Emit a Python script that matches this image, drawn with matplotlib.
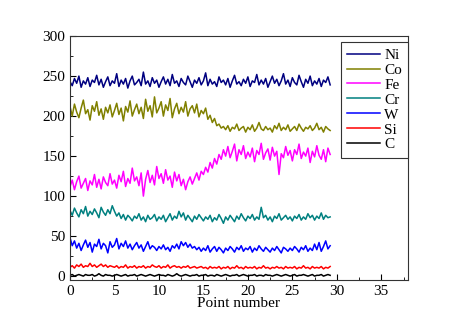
import numpy as np
import matplotlib.pyplot as plt
from matplotlib.ticker import MultipleLocator

# Element signal vs. point number (noise estimated)
ni = [243, 238, 247, 241, 250, 236, 244, 240, 248, 237,
      245, 242, 251, 239, 246, 236, 243, 249, 238, 244,
      241, 253, 237, 245, 240, 247, 235, 244, 250, 239,
      242, 246, 238, 255, 240, 244, 237, 248, 241, 245,
      236, 243, 249, 240, 246, 238, 252, 241, 244, 237,
      247, 242, 239, 250, 243, 236, 245, 241, 248, 239,
      244, 254, 238, 246, 240, 243, 237, 249, 242, 245,
      239, 247, 236, 244, 251, 240, 243, 238, 246, 241,
      249, 237, 244, 242, 252, 239, 245, 240, 247, 236,
      243, 250, 241, 246, 238, 244, 253, 240, 245, 237,
      248, 242, 239, 251, 243, 236, 246, 241, 250, 238,
      244, 240, 247, 237, 245, 242, 249, 239]
co = [212, 200, 215, 205, 198, 210, 220, 203, 208, 195,
      213, 206, 218, 201, 209, 196, 211, 204, 214, 199,
      207, 216, 202, 210, 194, 212, 205, 219, 200, 208,
      215, 203, 211, 197, 221, 206, 213, 199, 224, 204,
      210, 218, 200, 214, 207, 222, 198, 209, 216, 203,
      211, 205, 218, 200, 209, 213, 204, 215, 199, 207,
      203, 210, 196, 201, 192, 197, 188, 190, 185, 187,
      183, 188, 181, 186, 184, 190, 182, 185, 187, 180,
      186, 183, 189, 181, 185, 192, 184, 182, 187, 183,
      185, 180, 188, 184, 191, 182, 186, 183, 189, 181,
      184, 187, 182, 190, 185, 181, 186, 184, 188, 182,
      185, 191, 183, 186, 180, 187, 184, 182]
fe = [112, 120, 108, 118, 125, 110, 116, 122, 107, 119,
      114, 127, 111, 121, 109, 124, 117, 113, 128, 115,
      120, 110, 126, 118, 131, 112, 122, 116, 135, 119,
      124, 113, 129, 100, 121, 132, 117, 126, 114, 137,
      122, 128, 116, 133, 120, 125, 111, 130, 119, 127,
      113, 121, 108, 118, 124, 115, 122, 129, 120, 131,
      127, 136, 130, 142, 135, 147, 140, 152, 146, 158,
      150, 162, 148, 156, 165, 144, 158, 152, 163, 147,
      155, 149, 160, 143, 157, 152, 166, 146, 154, 159,
      145, 161, 150, 156, 127, 153, 148, 162, 151, 157,
      144, 158, 152, 165, 147, 155, 150, 160, 142, 156,
      149, 163, 151, 146, 158, 143, 160, 152]
cr = [82, 76, 85, 79, 74, 83, 78, 87, 75, 81,
      77, 84, 79, 73, 86, 80, 76, 83, 78, 88,
      81, 75, 79, 72, 77, 70, 76, 73, 69, 75,
      72, 78, 70, 74, 68, 76, 71, 73, 77, 69,
      74, 71, 76, 68, 73, 78, 70, 75, 72, 81,
      74, 79, 70, 76, 72, 68, 75, 71, 77, 73,
      69, 74, 71, 76, 68, 73, 70, 77, 72, 66,
      74, 70, 76, 72, 68, 75, 71, 78, 73, 69,
      75, 72, 77, 70, 74, 71, 86, 73, 76, 70,
      74, 68, 75, 72, 78, 70, 73, 76, 71, 74,
      69, 75, 72, 77, 70, 74, 71, 78, 73, 76,
      70, 75, 72, 79, 71, 76, 73, 74]
w = [48, 38, 44, 35, 41, 32, 39, 45, 36, 42,
     30, 40, 37, 46, 34, 41, 38, 29, 43, 36,
     39, 47, 34, 41, 37, 44, 35, 40, 33, 38,
     42, 35, 39, 31, 37, 43, 34, 38, 36, 32,
     37, 34, 39, 33, 36, 31, 38, 35, 40, 34,
     43, 38, 42, 36, 40, 35, 37, 33, 36, 31,
     35, 32, 38, 30, 34, 37, 31, 36, 33, 29,
     35, 32, 37, 34, 30, 36, 33, 38, 31, 35,
     33, 37, 30, 35, 32, 38, 34, 31, 36, 33,
     30, 35, 32, 37, 33, 29, 36, 34, 31, 35,
     32, 37, 34, 30, 36, 33, 38, 31, 35, 32,
     40, 33, 42, 31, 37, 44, 34, 38]
si = [11, 13, 10, 14, 12, 15, 11, 13, 12, 16,
      12, 14, 11, 13, 15, 12, 14, 11, 13, 12,
      11, 13, 10, 12, 11, 14, 10, 12, 11, 13,
      10, 12, 11, 13, 10, 12, 11, 14, 12, 11,
      13, 10, 12, 11, 14, 10, 12, 13, 11, 12,
      10, 12, 11, 13, 10, 11, 12, 10, 11, 12,
      10, 11, 9, 12, 10, 11, 10, 12, 9, 11,
      10, 12, 9, 11, 10, 13, 10, 11, 9, 12,
      10, 11, 10, 12, 9, 11, 10, 13, 10, 11,
      9, 11, 10, 12, 10, 11, 9, 12, 10, 11,
      10, 12, 9, 11, 10, 13, 10, 11, 9, 12,
      10, 11, 10, 12, 9, 11, 10, 12]
c = [1, 2, 0, 1, 2, 1, 0, 2, 1, 1,
     2, 0, 1, 3, 1, 0, 2, 1, 1, 0,
     1, 2, 1, 0, 1, 2, 0, 1, 1, 2,
     0, 1, 2, 1, 0, 1, 2, 1, 0, 1,
     2, 1, 1, 0, 2, 1, 0, 1, 3, 1,
     0, 1, 2, 1, 0, 1, 1, 2, 0, 1,
     1, 2, 0, 1, 1, 0, 2, 1, 0, 1,
     2, 1, 0, 1, 1, 2, 0, 1, 2, 1,
     0, 1, 1, 2, 0, 1, 1, 0, 2, 1,
     1, 0, 1, 2, 1, 0, 1, 2, 1, 0,
     1, 2, 0, 1, 1, 2, 1, 0, 1, 2,
     0, 1, 1, 2, 0, 1, 2, 1]

labels = ["Ni", "Co", "Fe", "Cr", "W", "Si", "C"]
colors = ["#000080", "#808000", "#ff00ff", "#008080", "#0000ff", "#ff0000", "#000000"]
series = [ni, co, fe, cr, w, si, c]

x = np.linspace(0, 29.25, len(ni))

plt.rcParams["font.family"] = ["Liberation Serif", "DejaVu Serif"]

fig = plt.figure(figsize=(4.74, 3.28), dpi=100)
ax = fig.add_axes([0.1477, 0.146, 0.713, 0.744])

for ys, lab, col in zip(series, labels, colors):
    ax.plot(x, ys, color=col, lw=1.1, label=lab)

ax.set_xlim(0, 38)
ax.set_ylim(-5, 300)
ax.xaxis.set_major_locator(MultipleLocator(5))
ax.xaxis.set_minor_locator(MultipleLocator(2.5))
ax.yaxis.set_major_locator(MultipleLocator(50))
ax.yaxis.set_minor_locator(MultipleLocator(25))
ax.tick_params(which="both", direction="in", top=False, right=False, labelsize=11)
ax.tick_params(which="major", length=4)
ax.tick_params(which="minor", length=2)
for sp in ax.spines.values():
    sp.set_color("#333333")

ax.set_xlabel("Point number", fontsize=11, labelpad=-1)

leg = ax.legend(loc="upper right", bbox_to_anchor=(1.0, 0.975), borderaxespad=0,
                fontsize=11, handlelength=2.1, labelspacing=0.08,
                fancybox=False, edgecolor="#333333", framealpha=1,
                handletextpad=0.3, borderpad=0.4)
leg.get_frame().set_linewidth(0.8)

plt.savefig("out.png", dpi=100)
